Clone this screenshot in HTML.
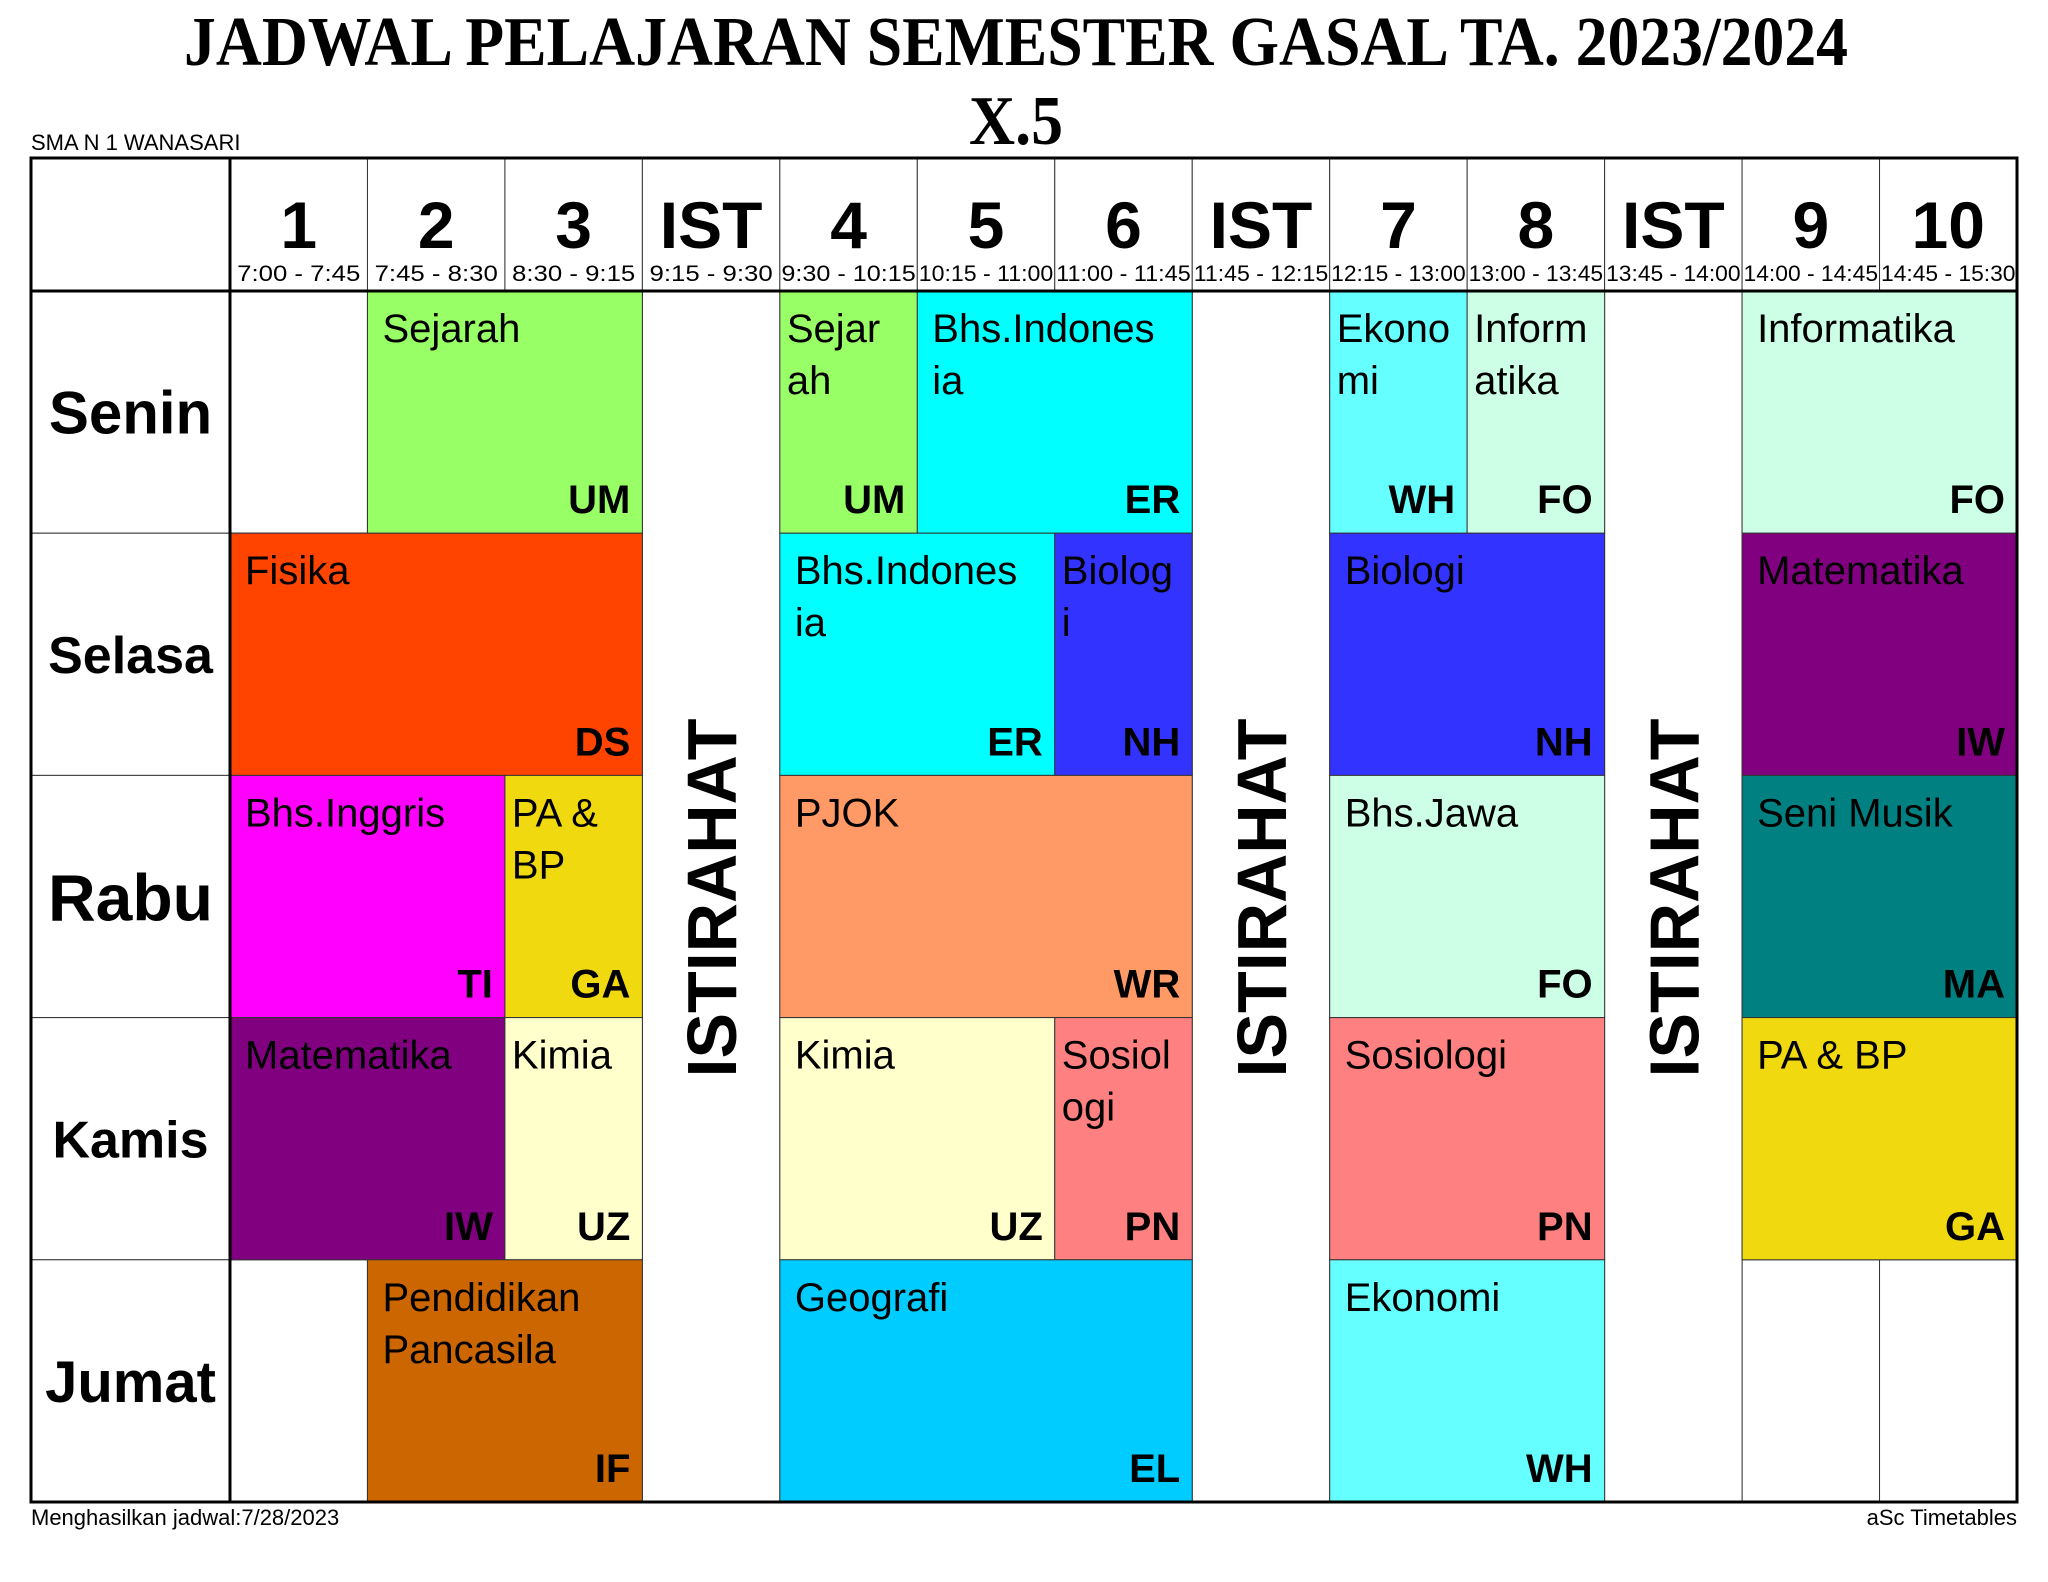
<!DOCTYPE html>
<html><head><meta charset="utf-8"><style>
html,body{margin:0;padding:0;background:#fff;}
svg{display:block;}
</style></head><body>
<svg id="chart" width="2048" height="1582" xmlns="http://www.w3.org/2000/svg" font-family="Liberation Sans, sans-serif">
<text x="1016" y="65" font-family="Liberation Serif, serif" font-weight="bold" font-size="70" text-anchor="middle" textLength="1664" lengthAdjust="spacingAndGlyphs">JADWAL PELAJARAN SEMESTER GASAL TA. 2023/2024</text>
<text x="1016" y="144" font-family="Liberation Serif, serif" font-weight="bold" font-size="70" text-anchor="middle" textLength="94" lengthAdjust="spacingAndGlyphs">X.5</text>
<text x="31" y="150" font-size="22">SMA N 1 WANASARI</text>
<text x="31" y="1525" font-size="22">Menghasilkan jadwal:7/28/2023</text>
<text x="2017" y="1525" font-size="22" text-anchor="end">aSc Timetables</text>
<g id="grid"></g>
</svg>
<script>
const periods = ["1","2","3","IST","4","5","6","IST","7","8","IST","9","10"];
const times = ["7:00 - 7:45","7:45 - 8:30","8:30 - 9:15","9:15 - 9:30","9:30 - 10:15","10:15 - 11:00","11:00 - 11:45","11:45 - 12:15","12:15 - 13:00","13:00 - 13:45","13:45 - 14:00","14:00 - 14:45","14:45 - 15:30"];
const days = ["Senin","Selasa","Rabu","Kamis","Jumat"];
const daySizes = [60,52,66,52,58];
const lessonDay   = [0,0,0,0,0,0, 1,1,1,1,1, 2,2,2,2,2, 3,3,3,3,3,3, 4,4,4];
const lessonStart = [1,4,5,8,9,11, 0,4,6,8,11, 0,2,4,8,11, 0,2,4,6,8,11, 1,4,8];
const lessonSpan  = [2,1,2,1,1,2, 3,2,1,2,2, 2,1,3,2,2, 2,1,2,1,2,2, 2,3,2];
const lessonText  = [["Sejarah"],["Sejar","ah"],["Bhs.Indones","ia"],["Ekono","mi"],["Inform","atika"],["Informatika"],
 ["Fisika"],["Bhs.Indones","ia"],["Biolog","i"],["Biologi"],["Matematika"],
 ["Bhs.Inggris"],["PA &","BP"],["PJOK"],["Bhs.Jawa"],["Seni Musik"],
 ["Matematika"],["Kimia"],["Kimia"],["Sosiol","ogi"],["Sosiologi"],["PA & BP"],
 ["Pendidikan","Pancasila"],["Geografi"],["Ekonomi"]];
const lessonTeacher = ["UM","UM","ER","WH","FO","FO","DS","ER","NH","NH","IW","TI","GA","WR","FO","MA","IW","UZ","UZ","PN","PN","GA","IF","EL","WH"];
const lessonColor = ["#99ff66","#99ff66","#00ffff","#66ffff","#ccffe6","#ccffe6","#ff4400","#00ffff","#3333ff","#3333ff","#800080","#ff00ff","#f0d90f","#ff9966","#ccffe6","#008080","#800080","#ffffcc","#ffffcc","#ff8080","#ff8080","#f0d90f","#cc6600","#00ccff","#66ffff"];

const NS="http://www.w3.org/2000/svg";
const g=document.getElementById('grid');
const L=31,R=2017,T=158,HB=291,DC=230,RB=1502;
const cw=(R-DC)/periods.length, rh=(RB-HB)/days.length;
const colX=i=>DC+i*cw, rowY=i=>HB+i*rh;
function el(tag,attrs,txt){const e=document.createElementNS(NS,tag);for(const k in attrs)e.setAttribute(k,attrs[k]);if(txt!==undefined)e.textContent=txt;g.appendChild(e);return e;}

for(let d=0;d<days.length;d++)for(let c=0;c<periods.length;c++){
  if(periods[c]==="IST")continue;
  const r=el('rect',{x:colX(c),y:rowY(d),width:cw,height:rh,fill:'#fff',stroke:'#333','stroke-width':1});
  
  
}
for(let c=0;c<periods.length;c++){
  const r=el('rect',{x:colX(c),y:T,width:cw,height:HB-T,fill:'#fff',stroke:'#333','stroke-width':1});
  
  
  const n=el('text',{x:colX(c)+cw/2,y:248,'font-size':66,'font-weight':'bold','text-anchor':'middle'},periods[c]);
  
  
  const t=el('text',{x:colX(c)+cw/2,y:281,'font-size':22,'text-anchor':'middle',textLength:Math.min(cw-3,times[c].length*11.2),lengthAdjust:'spacingAndGlyphs'},times[c]);
  
  
}
for(let d=0;d<days.length;d++){
  const r=el('rect',{x:L,y:rowY(d),width:DC-L,height:rh,fill:'#fff',stroke:'#333','stroke-width':1});
  
  
  const t=el('text',{x:(L+DC)/2,y:rowY(d)+rh/2+daySizes[d]*0.36,'font-size':daySizes[d],'font-weight':'bold','text-anchor':'middle'},days[d]);
  
  
}
for(let c=0;c<periods.length;c++){
  if(periods[c]!=="IST")continue;
  const r=el('rect',{x:colX(c),y:HB,width:cw,height:RB-HB,fill:'#fff',stroke:'#333','stroke-width':1});
  
  
  const cx=colX(c)+cw/2+25, cy=898;
  const t=el('text',{x:cx,y:cy,'font-size':70,'font-weight':'bold','text-anchor':'middle',transform:`rotate(-90 ${cx} ${cy})`,textLength:359,lengthAdjust:'spacingAndGlyphs'},"ISTIRAHAT");
  
  
}
for(let i=0;i<lessonDay.length;i++){
  const x=colX(lessonStart[i]),y=rowY(lessonDay[i]),w=cw*lessonSpan[i];
  const r=el('rect',{x:x,y:y,width:w,height:rh,fill:lessonColor[i],stroke:'#333','stroke-width':1});
  
  
  const pad=lessonSpan[i]>1?15:7;
  lessonText[i].forEach((line,k)=>{
    const t=el('text',{x:x+pad,y:y+51+k*52,'font-size':40},line);
    
    
  });
  const tt=el('text',{x:x+w-12,y:y+rh-20,'font-size':40,'font-weight':'bold','text-anchor':'end'},lessonTeacher[i]);
  
  
}
const ob=el('rect',{x:L,y:T,width:R-L,height:RB-T,fill:'none',stroke:'#000','stroke-width':3});


const hl=el('line',{x1:L,y1:HB,x2:R,y2:HB,stroke:'#000','stroke-width':3});


const vl=el('line',{x1:DC,y1:T,x2:DC,y2:RB,stroke:'#000','stroke-width':3});


</script>
</body></html>
